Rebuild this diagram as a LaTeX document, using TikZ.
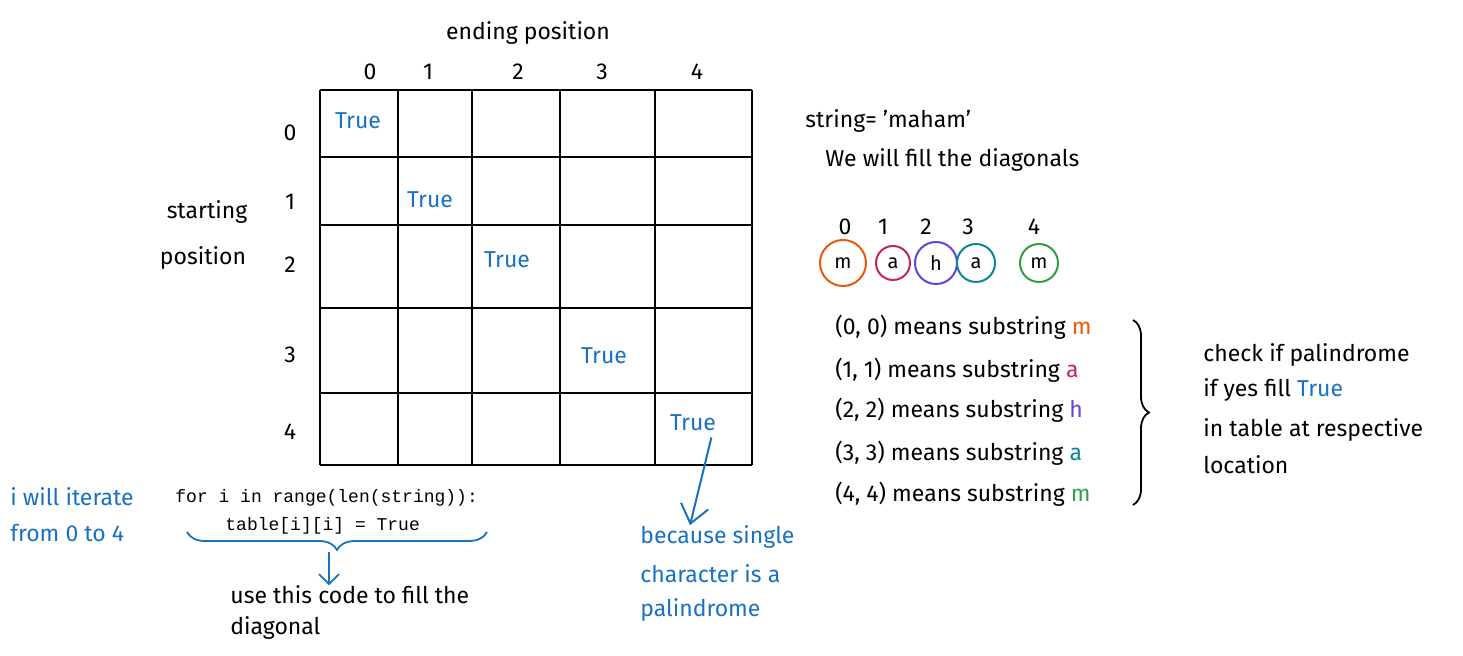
\documentclass[tikz,border=0pt]{standalone}
\usepackage{fontspec}
\setmainfont{Fira Sans}
\newfontfamily\codefont{Liberation Mono}
\usetikzlibrary{decorations.pathreplacing,arrows.meta}
\definecolor{hblue}{HTML}{1971C2}
\definecolor{corange}{HTML}{E8590C}
\definecolor{cred}{HTML}{C2255C}
\definecolor{cpurple}{HTML}{6741D9}
\definecolor{cteal}{HTML}{0C8599}
\definecolor{cgreen}{HTML}{2F9E44}
\begin{document}
\begin{tikzpicture}[x=0.5pt,y=-0.5pt,
  txt/.style={font=\fontsize{11.5}{13}\selectfont,inner sep=0pt},
  btxt/.style={txt,text=hblue},
  ltxt/.style={txt,anchor=west},
  lbtxt/.style={btxt,anchor=west},
  code/.style={font=\codefont\fontsize{9}{11}\selectfont,anchor=west,inner sep=0pt},
  gridline/.style={line width=0.9pt},
  ch/.style={circle,draw,line width=1pt,inner sep=0pt,font=\fontsize{10}{12}\selectfont}]
\useasboundingbox (0,0) rectangle (1463,656);
% grid
\foreach \x in {320,398,472,560,655,752} \draw[gridline] (\x,90) -- (\x,465);
\foreach \y in {90,157,225,308,393,465} \draw[gridline] (320,\y) -- (752,\y);
\node[txt] (ep) at (528,33) {ending position};
\foreach \x/\t in {370/0,428/1,518/2,602/3,697/4} \node[txt] at (\x,72) {\t};
\foreach \y/\t in {133/0,202/1,265/2,355/3,432/4} \node[txt] at (290,\y) {\t};
\node[txt] (sp1) at (207,212) {starting};
\node[txt] (sp2) at (203,258) {position};
\node[btxt] (t0) at (358,121) {True};
\node[btxt] (t1) at (430,200) {True};
\node[btxt] (t2) at (507,260) {True};
\node[btxt] (t3) at (604,356) {True};
\node[btxt] (t4) at (693,423) {True};
% right side
\node[ltxt] (str) at (805,121) {string= \char"0027maham\char"0027};
\node[ltxt] (fill) at (825,160) {We will fill the diagonals};
\foreach \x/\t in {845/0,883/1,926/2,968/3,1034/4} \node[txt] at (\x,227) {\t};
\node[ch,draw=corange,minimum size=46*0.5pt] (c0) at (843,263) {m};
\node[ch,draw=cred,minimum size=34*0.5pt] (c1) at (893,263) {a};
\node[ch,draw=cpurple,minimum size=42*0.5pt] (c2) at (936,263) {h};
\node[ch,draw=cteal,minimum size=38*0.5pt] (c3) at (976,263) {a};
\node[ch,draw=cgreen,minimum size=38*0.5pt] (c4) at (1039,263) {m};
\node[ltxt] (m0) at (835,327) {(0, 0) means substring \textcolor{corange}{m}};
\node[ltxt] (m1) at (835,370) {(1, 1) means substring \textcolor{cred}{a}};
\node[ltxt] (m2) at (835,410) {(2, 2) means substring \textcolor{cpurple}{h}};
\node[ltxt] (m3) at (835,453) {(3, 3) means substring \textcolor{cteal}{a}};
\node[ltxt] (m4) at (835,494) {(4, 4) means substring \textcolor{cgreen}{m}};
\coordinate (b1) at (1133,320);
\coordinate (b2) at (1133,505);
\draw[line width=0.9pt,decorate,decoration={brace,amplitude=8pt}] (b1) -- (b2);
\node[ltxt] (k1) at (1203,355) {check if palindrome};
\node[ltxt] (k2) at (1203,390) {if yes fill \textcolor{hblue}{True}};
\node[ltxt] (k3) at (1203,430) {in table at respective};
\node[ltxt] (k4) at (1203,465) {location};
% code
\node[code] (cd1) at (175,498) {for i in range(len(string)):};
\node[code] (cd2) at (225,526) {table[i][i] = True};
\node[lbtxt] (it1) at (10,497) {i will iterate};
\node[lbtxt] (it2) at (10,533) {from 0 to 4};
\coordinate (cb1) at (487,532);
\coordinate (cb2) at (187,532);
\draw[hblue,line width=0.9pt,decorate,decoration={brace,amplitude=9pt}] (cb1) -- (cb2);
\coordinate (cbm) at (329,552);
\node[ltxt] (u1) at (230,595) {use this code to fill the};
\node[ltxt] (u2) at (230,628) {diagonal};
\draw[hblue,line width=0.9pt,-{Straight Barb[length=5pt]}] (cbm) -- (u1.north -| cbm);
% because
\node[lbtxt] (bc1) at (640,537) {because single};
\node[lbtxt] (bc2) at (640,574) {character is a};
\node[lbtxt] (bc3) at (640,610) {palindrome};
\draw[hblue,line width=1pt,-{Straight Barb[length=9pt,width=14pt]}] (t4.south east) ++(-5,6) -- (bc1.north -| 690,0);
\end{tikzpicture}
\end{document}
